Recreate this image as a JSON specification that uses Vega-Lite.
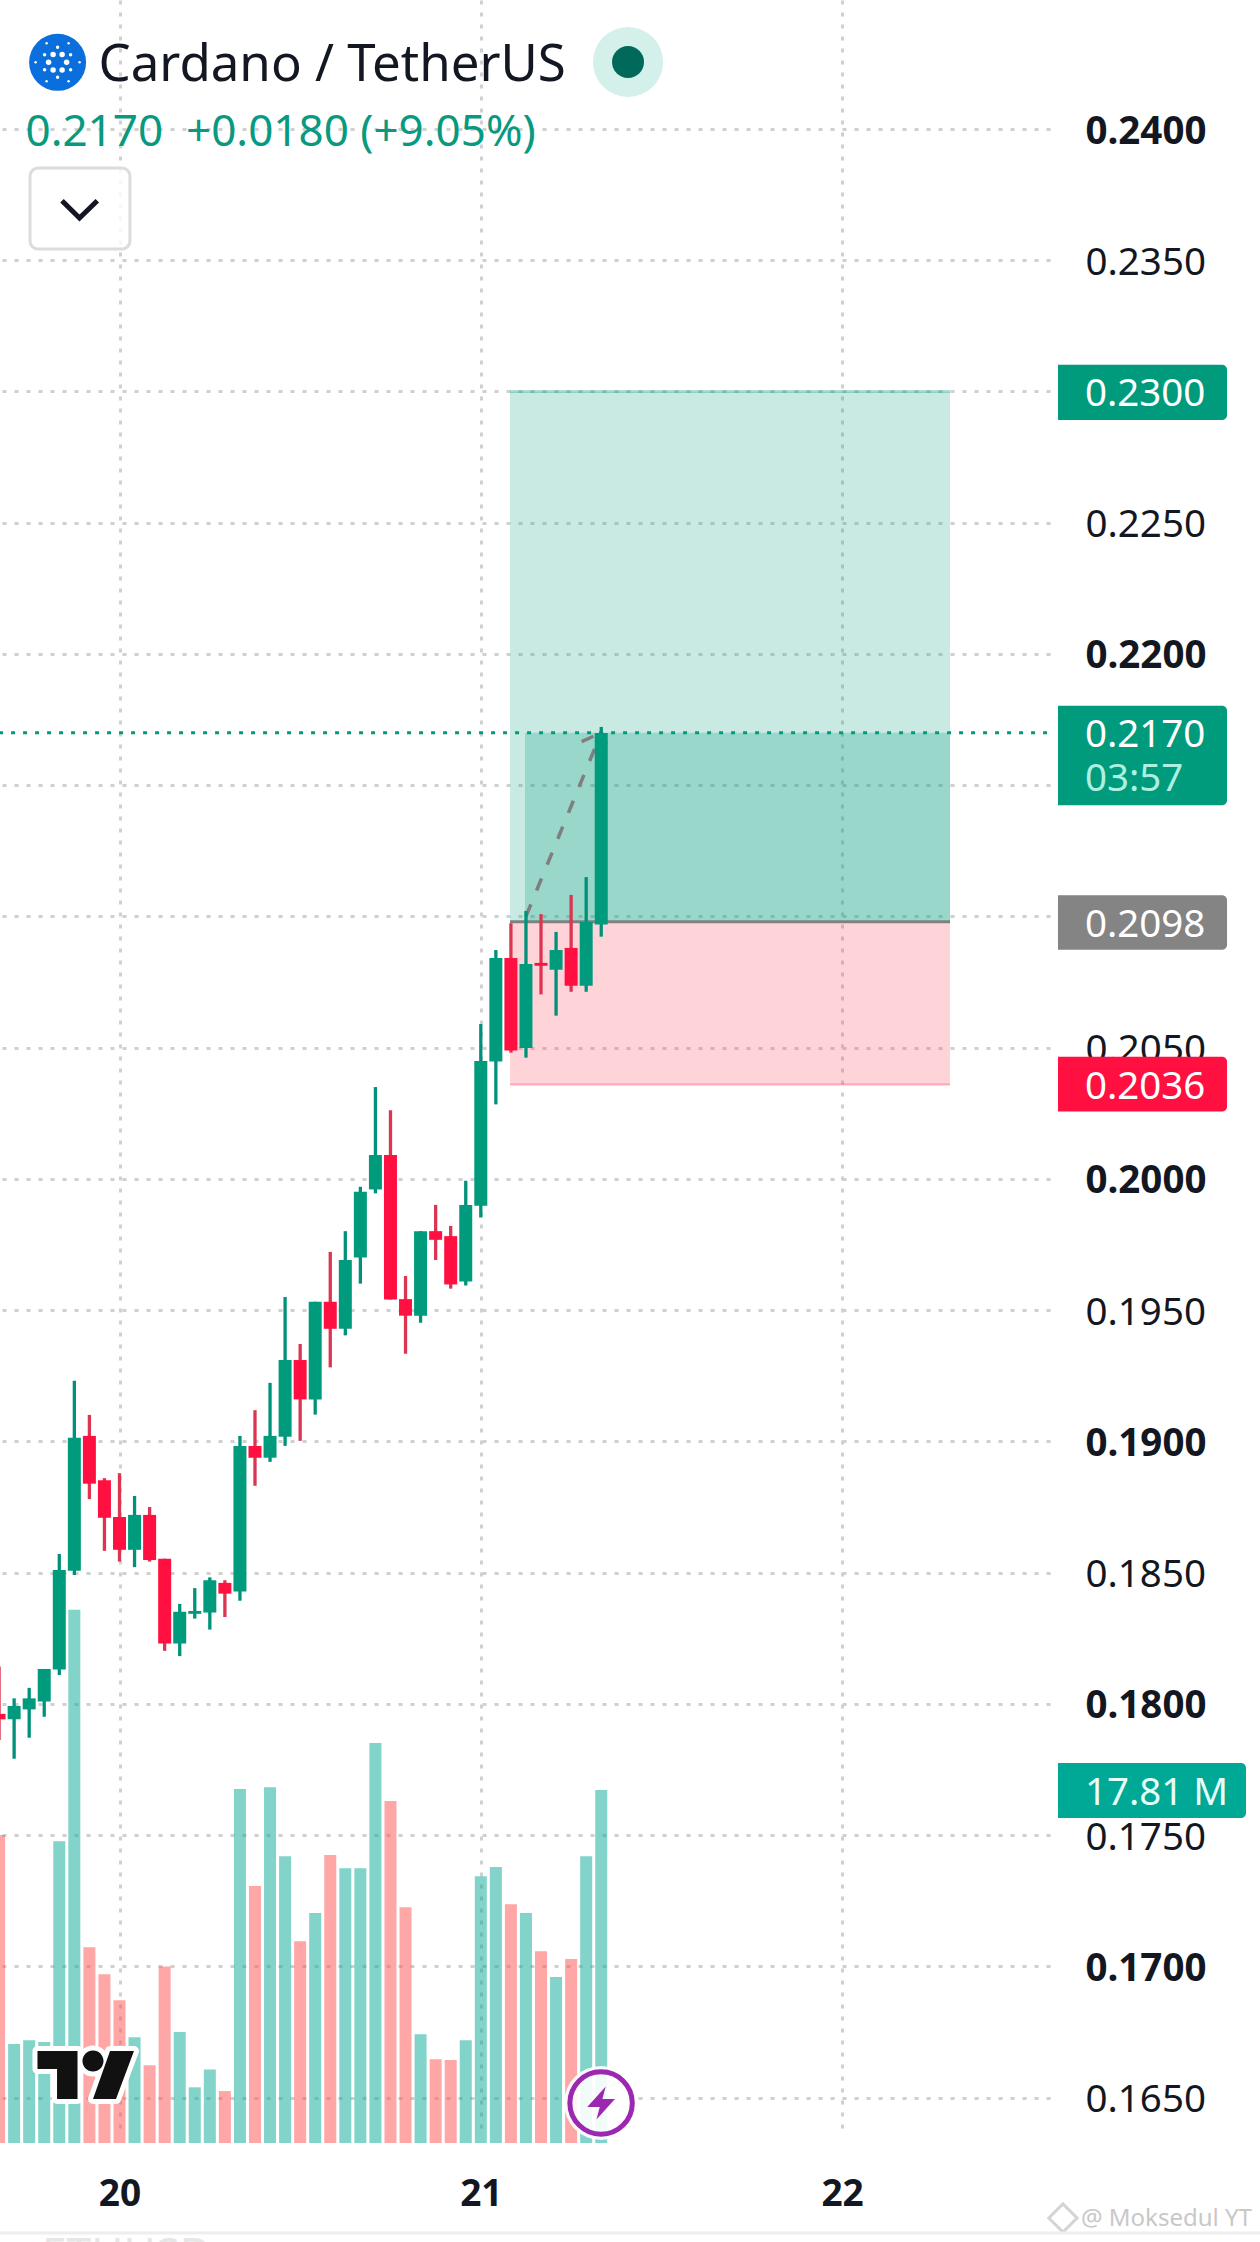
{
  "$schema": "https://vega.github.io/schema/vega-lite/v6.json",
  "width": 1050,
  "height": 2134,
  "autosize": "none",
  "padding": {"left": 0, "top": 0, "right": 210, "bottom": 108},
  "background": "#ffffff",
  "config": {
    "view": {"stroke": null},
    "text": {"font": "Noto Sans"},
    "axis": {"labelFont": "Noto Sans"}
  },
  "datasets": {
    "candles": [
      {"h": -8, "open": 0.17962, "close": 0.17941, "high": 0.18142, "low": 0.17862, "vol": 15.54, "dir": "down"},
      {"h": -7, "open": 0.17941, "close": 0.17992, "high": 0.18021, "low": 0.17791, "vol": 4.99, "dir": "up"},
      {"h": -6, "open": 0.17979, "close": 0.18021, "high": 0.18061, "low": 0.17871, "vol": 5.18, "dir": "up"},
      {"h": -5, "open": 0.18009, "close": 0.18133, "high": 0.18133, "low": 0.17951, "vol": 5.09, "dir": "up"},
      {"h": -4, "open": 0.18131, "close": 0.18510, "high": 0.18571, "low": 0.18110, "vol": 15.22, "dir": "up"},
      {"h": -3, "open": 0.18507, "close": 0.19014, "high": 0.19231, "low": 0.18491, "vol": 26.9, "dir": "up"},
      {"h": -2, "open": 0.19021, "close": 0.18839, "high": 0.19101, "low": 0.18780, "vol": 9.87, "dir": "down"},
      {"h": -1, "open": 0.18852, "close": 0.18709, "high": 0.18860, "low": 0.18583, "vol": 8.51, "dir": "down"},
      {"h": 0, "open": 0.18712, "close": 0.18587, "high": 0.18879, "low": 0.18542, "vol": 7.2, "dir": "down"},
      {"h": 1, "open": 0.18587, "close": 0.18720, "high": 0.18792, "low": 0.18521, "vol": 5.34, "dir": "up"},
      {"h": 2, "open": 0.18720, "close": 0.18548, "high": 0.18750, "low": 0.18542, "vol": 3.92, "dir": "down"},
      {"h": 3, "open": 0.18553, "close": 0.18230, "high": 0.18553, "low": 0.18202, "vol": 8.91, "dir": "down"},
      {"h": 4, "open": 0.18230, "close": 0.18351, "high": 0.18381, "low": 0.18182, "vol": 5.6, "dir": "up"},
      {"h": 5, "open": 0.18343, "close": 0.18354, "high": 0.18441, "low": 0.18325, "vol": 2.81, "dir": "up"},
      {"h": 6, "open": 0.18348, "close": 0.18471, "high": 0.18482, "low": 0.18283, "vol": 3.71, "dir": "up"},
      {"h": 7, "open": 0.18461, "close": 0.18420, "high": 0.18471, "low": 0.18331, "vol": 2.62, "dir": "down"},
      {"h": 8, "open": 0.18428, "close": 0.18982, "high": 0.19021, "low": 0.18393, "vol": 17.86, "dir": "up"},
      {"h": 9, "open": 0.18982, "close": 0.18938, "high": 0.19119, "low": 0.18831, "vol": 12.96, "dir": "down"},
      {"h": 10, "open": 0.18938, "close": 0.19021, "high": 0.19223, "low": 0.18922, "vol": 17.95, "dir": "up"},
      {"h": 11, "open": 0.19018, "close": 0.19310, "high": 0.19550, "low": 0.18983, "vol": 14.47, "dir": "up"},
      {"h": 12, "open": 0.19310, "close": 0.19160, "high": 0.19371, "low": 0.19002, "vol": 10.18, "dir": "down"},
      {"h": 13, "open": 0.19160, "close": 0.19532, "high": 0.19532, "low": 0.19102, "vol": 11.6, "dir": "up"},
      {"h": 14, "open": 0.19532, "close": 0.19429, "high": 0.19722, "low": 0.19282, "vol": 14.53, "dir": "down"},
      {"h": 15, "open": 0.19429, "close": 0.19691, "high": 0.19801, "low": 0.19404, "vol": 13.86, "dir": "up"},
      {"h": 16, "open": 0.19701, "close": 0.19951, "high": 0.19970, "low": 0.19601, "vol": 13.86, "dir": "up"},
      {"h": 17, "open": 0.19960, "close": 0.20091, "high": 0.20350, "low": 0.19945, "vol": 20.18, "dir": "up"},
      {"h": 18, "open": 0.20091, "close": 0.19541, "high": 0.20262, "low": 0.19541, "vol": 17.25, "dir": "down"},
      {"h": 19, "open": 0.19542, "close": 0.19479, "high": 0.19630, "low": 0.19334, "vol": 11.89, "dir": "down"},
      {"h": 20, "open": 0.19479, "close": 0.19801, "high": 0.19801, "low": 0.19452, "vol": 5.49, "dir": "up"},
      {"h": 21, "open": 0.19801, "close": 0.19768, "high": 0.19901, "low": 0.19691, "vol": 4.22, "dir": "down"},
      {"h": 22, "open": 0.19782, "close": 0.19598, "high": 0.19821, "low": 0.19582, "vol": 4.19, "dir": "down"},
      {"h": 23, "open": 0.19609, "close": 0.19901, "high": 0.19993, "low": 0.19594, "vol": 5.18, "dir": "up"},
      {"h": 24, "open": 0.19898, "close": 0.20449, "high": 0.20590, "low": 0.19853, "vol": 13.46, "dir": "up"},
      {"h": 25, "open": 0.20447, "close": 0.20842, "high": 0.20872, "low": 0.20284, "vol": 13.92, "dir": "up"},
      {"h": 26, "open": 0.20842, "close": 0.20489, "high": 0.20974, "low": 0.20481, "vol": 12.05, "dir": "down"},
      {"h": 27, "open": 0.20499, "close": 0.20819, "high": 0.21021, "low": 0.20462, "vol": 11.6, "dir": "up"},
      {"h": 28, "open": 0.20823, "close": 0.20812, "high": 0.21009, "low": 0.20703, "vol": 9.68, "dir": "down"},
      {"h": 29, "open": 0.20797, "close": 0.20872, "high": 0.20941, "low": 0.20622, "vol": 8.37, "dir": "up"},
      {"h": 30, "open": 0.20880, "close": 0.20736, "high": 0.21082, "low": 0.20713, "vol": 9.28, "dir": "down"},
      {"h": 31, "open": 0.20736, "close": 0.20979, "high": 0.21150, "low": 0.20713, "vol": 14.47, "dir": "up"},
      {"h": 32, "open": 0.20969, "close": 0.21699, "high": 0.21722, "low": 0.20923, "vol": 17.81, "dir": "up"}
    ]
  },
  "encoding": {
    "x": {
      "field": "h",
      "type": "quantitative",
      "scale": {"domain": [-7.938, 61.81], "nice": false, "zero": false, "padding": 0},
      "axis": {
        "title": null,
        "values": [0, 24, 48],
        "labelExpr": "datum.value / 24 + 20",
        "labelFontSize": 37,
        "labelFontWeight": "bold",
        "labelColor": "#131722",
        "labelPadding": 42,
        "labelFlush": false,
        "domain": false,
        "ticks": false,
        "grid": true,
        "gridColor": "#d0d0d0",
        "gridWidth": 3,
        "gridDash": [4, 8]
      }
    }
  },
  "layer": [
    {
      "layer": [
        {
          "data": {"name": "candles"},
          "mark": {"type": "bar", "size": 12, "opacity": 0.5, "orient": "vertical"},
          "encoding": {
            "y": {"field": "vol", "type": "quantitative", "scale": {"domain": [0.454, 108.12], "nice": false, "zero": false}, "axis": null},
            "y2": {"datum": 0},
            "color": {"field": "dir", "type": "nominal", "legend": null, "scale": {"domain": ["up", "down"], "range": ["#05a896", "#ff4d50"]}}
          }
        },
        {
          "data": {"values": [{"h": 62.34, "h2": 74.83, "top": 19.17, "bottom": 16.4}]},
          "mark": {"type": "rect", "color": "#00a896", "cornerRadiusTopRight": 5, "cornerRadiusBottomRight": 5},
          "encoding": {
            "x2": {"field": "h2"},
            "y": {"field": "top", "type": "quantitative", "axis": null},
            "y2": {"field": "bottom"}
          }
        },
        {
          "data": {"values": [{"h": 64.13, "v": 17.81, "label": "17.81 M"}]},
          "mark": {"type": "text", "align": "left", "baseline": "middle", "dy": 3, "fontSize": 38.5, "color": "#e6fff9"},
          "encoding": {
            "y": {"field": "v", "type": "quantitative", "axis": null},
            "text": {"field": "label"}
          }
        }
      ]
    },
    {
      "layer": [
        {
          "data": {"values": [{"h": 25.94, "h2": 55.17, "top": 0.23, "bottom": 0.2098}]},
          "mark": {"type": "rect", "fill": "#009b7c", "fillOpacity": 0.21},
          "encoding": {
            "x2": {"field": "h2"},
            "y": {
              "field": "top",
              "type": "quantitative",
              "scale": {"domain": [0.163613, 0.244915], "nice": false, "zero": false},
              "axis": {
                "title": null,
                "orient": "right",
                "values": [0.165, 0.17, 0.175, 0.18, 0.185, 0.19, 0.195, 0.2, 0.205, 0.21, 0.215, 0.22, 0.225, 0.23, 0.235, 0.24],
                "format": ".4f",
                "labelFontSize": 38.5,
                "labelFontWeight": {"condition": {"test": "indexof(['0.2400','0.2200','0.2000','0.1900','0.1800','0.1700'], datum.label) >= 0", "value": "bold"}, "value": "normal"},
                "labelColor": "#131722",
                "labelPadding": 35,
                "labelAlign": "left",
                "labelOffset": 2,
                "domain": false,
                "ticks": false,
                "grid": true,
                "gridColor": "#d0d0d0",
                "gridWidth": 3,
                "gridDash": [4, 8]
              }
            },
            "y2": {"field": "bottom"}
          }
        },
        {
          "data": {"values": [{"h": 26.94, "h2": 55.17, "top": 0.217, "bottom": 0.2098}]},
          "mark": {"type": "rect", "fill": "#009b7c", "fillOpacity": 0.245},
          "encoding": {
            "x2": {"field": "h2"},
            "y": {"field": "top", "type": "quantitative"},
            "y2": {"field": "bottom"}
          }
        },
        {
          "data": {"values": [{"h": 25.94, "h2": 55.17, "top": 0.2098, "bottom": 0.2036}]},
          "mark": {"type": "rect", "fill": "#ff4d5a", "fillOpacity": 0.24},
          "encoding": {
            "x2": {"field": "h2"},
            "y": {"field": "top", "type": "quantitative"},
            "y2": {"field": "bottom"}
          }
        },
        {
          "data": {"values": [{"h": 25.94, "h2": 55.17, "p": 0.23}]},
          "mark": {"type": "rule", "color": "#009b7c", "opacity": 0.3, "strokeWidth": 3},
          "encoding": {"x2": {"field": "h2"}, "y": {"field": "p", "type": "quantitative"}}
        },
        {
          "data": {"values": [{"h": 25.94, "h2": 55.17, "p": 0.2036}]},
          "mark": {"type": "rule", "color": "#ff1040", "opacity": 0.3, "strokeWidth": 2},
          "encoding": {"x2": {"field": "h2"}, "y": {"field": "p", "type": "quantitative"}}
        },
        {
          "data": {"values": [{"h": 25.94, "h2": 55.17, "p": 0.2098}]},
          "mark": {"type": "rule", "color": "#808080", "strokeWidth": 3},
          "encoding": {"x2": {"field": "h2"}, "y": {"field": "p", "type": "quantitative"}}
        },
        {
          "data": {"values": [{"h": -8, "h2": 61.81, "p": 0.217}]},
          "mark": {"type": "rule", "color": "#009b7c", "strokeWidth": 3, "strokeDash": [4, 8]},
          "encoding": {"x2": {"field": "h2"}, "y": {"field": "p", "type": "quantitative"}}
        },
        {
          "data": {"values": [
            {"h": 27, "p": 0.21, "part": "path"},
            {"h": 32, "p": 0.217, "part": "path"},
            {"h": 30.7, "p": 0.21666, "part": "left"},
            {"h": 32, "p": 0.217, "part": "left"},
            {"h": 32.58, "p": 0.21624, "part": "right"},
            {"h": 32, "p": 0.217, "part": "right"}
          ]},
          "mark": {"type": "line", "color": "#7f7f7f", "strokeWidth": 3.5, "strokeDash": [13, 15]},
          "encoding": {
            "y": {"field": "p", "type": "quantitative"},
            "detail": {"field": "part"}
          }
        },
        {
          "data": {"name": "candles"},
          "mark": {"type": "rule", "strokeWidth": 3.3},
          "encoding": {
            "y": {"field": "low", "type": "quantitative"},
            "y2": {"field": "high"},
            "stroke": {"field": "dir", "type": "nominal", "legend": null, "scale": {"domain": ["up", "down"], "range": ["#00917a", "#dc3552"]}}
          }
        },
        {
          "data": {"name": "candles"},
          "mark": {"type": "bar", "size": 13, "orient": "vertical"},
          "encoding": {
            "y": {"field": "open", "type": "quantitative"},
            "y2": {"field": "close"},
            "fill": {"field": "dir", "type": "nominal", "legend": null, "scale": {"domain": ["up", "down"], "range": ["#009b7c", "#ff1040"]}}
          }
        },
        {
          "data": {"values": [
            {"h": 62.34, "h2": 73.57, "top": 0.23102, "bottom": 0.22891, "kind": "target"},
            {"h": 62.34, "h2": 73.57, "top": 0.218025, "bottom": 0.214234, "kind": "last"},
            {"h": 62.34, "h2": 73.57, "top": 0.21081, "bottom": 0.20873, "kind": "entry"},
            {"h": 62.34, "h2": 73.57, "top": 0.20465, "bottom": 0.20257, "kind": "stop"}
          ]},
          "mark": {"type": "rect", "cornerRadiusTopRight": 5, "cornerRadiusBottomRight": 5},
          "encoding": {
            "x2": {"field": "h2"},
            "y": {"field": "top", "type": "quantitative"},
            "y2": {"field": "bottom"},
            "color": {"field": "kind", "type": "nominal", "legend": null, "scale": {"domain": ["target", "last", "entry", "stop"], "range": ["#009b7c", "#009b7c", "#848484", "#ff1040"]}}
          }
        },
        {
          "data": {"values": [
            {"h": 64.13, "p": 0.23, "label": "0.2300"},
            {"h": 64.13, "p": 0.21702, "label": "0.2170"},
            {"h": 64.13, "p": 0.2098, "label": "0.2098"},
            {"h": 64.13, "p": 0.2036, "label": "0.2036"}
          ]},
          "mark": {"type": "text", "align": "left", "baseline": "middle", "dy": 3, "fontSize": 38.5, "color": "#ffffff"},
          "encoding": {
            "y": {"field": "p", "type": "quantitative"},
            "text": {"field": "label"}
          }
        },
        {
          "data": {"values": [{"h": 64.13, "p": 0.21534, "label": "03:57"}]},
          "mark": {"type": "text", "align": "left", "baseline": "middle", "dy": 3, "fontSize": 38.5, "color": "#aef0e0"},
          "encoding": {
            "y": {"field": "p", "type": "quantitative"},
            "text": {"field": "label"}
          }
        },
        {
          "data": {"values": [{"h": 33.78, "p": 0.242553}]},
          "mark": {"type": "circle", "size": 4900, "color": "#d3f0ea", "opacity": 1},
          "encoding": {"y": {"field": "p", "type": "quantitative"}}
        },
        {
          "data": {"values": [{"h": 33.78, "p": 0.242553}]},
          "mark": {"type": "circle", "size": 1024, "color": "#00695a", "opacity": 1},
          "encoding": {"y": {"field": "p", "type": "quantitative"}}
        },
        {
          "data": {"values": [{"h": -4.112, "p": 0.242541}]},
          "mark": {"type": "circle", "size": 3249, "color": "#0a6fdc", "opacity": 1},
          "encoding": {"y": {"field": "p", "type": "quantitative"}}
        },
        {
          "data": {"values": [
            {"h": -3.514, "p": 0.242541}, {"h": -4.71, "p": 0.242541},
            {"h": -3.813, "p": 0.242838}, {"h": -4.411, "p": 0.242838},
            {"h": -3.813, "p": 0.242244}, {"h": -4.411, "p": 0.242244}
          ]},
          "mark": {"type": "circle", "size": 30, "color": "#ffffff", "opacity": 1},
          "encoding": {"y": {"field": "p", "type": "quantitative"}}
        },
        {
          "data": {"values": [
            {"h": -4.112, "p": 0.243113}, {"h": -4.112, "p": 0.241969},
            {"h": -3.248, "p": 0.242827}, {"h": -4.976, "p": 0.242827},
            {"h": -3.248, "p": 0.242255}, {"h": -4.976, "p": 0.242255}
          ]},
          "mark": {"type": "circle", "size": 12, "color": "#ffffff", "opacity": 1},
          "encoding": {"y": {"field": "p", "type": "quantitative"}}
        },
        {
          "data": {"values": [
            {"h": -2.652, "p": 0.242541}, {"h": -5.572, "p": 0.242541},
            {"h": -3.382, "p": 0.243265}, {"h": -4.842, "p": 0.243265},
            {"h": -3.382, "p": 0.241817}, {"h": -4.842, "p": 0.241817}
          ]},
          "mark": {"type": "circle", "size": 6, "color": "#ffffff", "opacity": 1},
          "encoding": {"y": {"field": "p", "type": "quantitative"}}
        },
        {
          "data": {"values": [{"h": -1.395, "p": 0.242553, "label": "Cardano / TetherUS"}]},
          "mark": {"type": "text", "align": "left", "baseline": "middle", "dy": 4, "fontSize": 51, "color": "#131722"},
          "encoding": {
            "y": {"field": "p", "type": "quantitative"},
            "text": {"field": "label"}
          }
        },
        {
          "data": {"values": [{"h": -6.245, "p": 0.239962, "label": "0.2170\u00a0\u00a0+0.0180 (+9.05%)"}]},
          "mark": {"type": "text", "align": "left", "baseline": "middle", "dy": 3, "fontSize": 44, "color": "#089981"},
          "encoding": {
            "y": {"field": "p", "type": "quantitative"},
            "text": {"field": "label"}
          }
        },
        {
          "data": {"values": [{"h": -5.945, "h2": 0.694, "top": 0.238514, "bottom": 0.235428}]},
          "mark": {"type": "rect", "fill": "#ffffff", "fillOpacity": 0.8, "stroke": "#dcdcdc", "strokeWidth": 3, "cornerRadius": 8},
          "encoding": {
            "x2": {"field": "h2"},
            "y": {"field": "top", "type": "quantitative"},
            "y2": {"field": "bottom"}
          }
        },
        {
          "data": {"values": [{"h": -3.82, "p": 0.237268}, {"h": -2.657, "p": 0.236609}, {"h": -1.475, "p": 0.237268}]},
          "mark": {"type": "line", "color": "#131722", "strokeWidth": 5},
          "encoding": {"y": {"field": "p", "type": "quantitative"}}
        },
        {
          "data": {"values": [{"h": -2.225, "p": 0.16586}]},
          "mark": {"type": "point", "filled": true, "size": 37248, "fill": "#ffffff", "stroke": "#ffffff", "strokeWidth": 10, "opacity": 1, "strokeJoin": "round", "shape": "M-.503 -.249L-.088 -.249L-.088 .249L-.3 .249L-.3 -.062L-.503 -.062ZM-.0365 -.145a.109 .109 0 1 0 .218 0a.109 .109 0 1 0 -.218 0ZM.249 -.249L.497 -.249L.311 .249L.0725 .249Z"},
          "encoding": {"y": {"field": "p", "type": "quantitative"}}
        },
        {
          "data": {"values": [{"h": -2.225, "p": 0.16586}]},
          "mark": {"type": "point", "filled": true, "size": 37248, "color": "#111111", "opacity": 1, "shape": "M-.503 -.249L-.088 -.249L-.088 .249L-.3 .249L-.3 -.062L-.503 -.062ZM-.0365 -.145a.109 .109 0 1 0 .218 0a.109 .109 0 1 0 -.218 0ZM.249 -.249L.497 -.249L.311 .249L.0725 .249Z"},
          "encoding": {"y": {"field": "p", "type": "quantitative"}}
        },
        {
          "data": {"values": [{"h": 31.99, "p": 0.164794}]},
          "mark": {"type": "circle", "size": 5500, "color": "#ffffff", "opacity": 0.9},
          "encoding": {"y": {"field": "p", "type": "quantitative"}}
        },
        {
          "data": {"values": [{"h": 31.99, "p": 0.164794}]},
          "mark": {"type": "point", "shape": "circle", "size": 3900, "filled": false, "stroke": "#9c27b0", "strokeWidth": 5, "opacity": 1},
          "encoding": {"y": {"field": "p", "type": "quantitative"}}
        },
        {
          "data": {"values": [{"h": 31.99, "p": 0.164794}]},
          "mark": {"type": "point", "filled": true, "size": 4356, "color": "#9c27b0", "opacity": 1, "shape": "M.14 -.5L-.42 .12L-.04 .12L-.14 .5L.42 -.12L.04 -.12Z"},
          "encoding": {"y": {"field": "p", "type": "quantitative"}}
        },
        {
          "data": {"values": [{"h": 63.87, "p": 0.160413, "label": "@ Moksedul YT"}]},
          "mark": {"type": "text", "align": "left", "baseline": "middle", "dy": 1, "fontSize": 24, "color": "#c8c8c8"},
          "encoding": {
            "y": {"field": "p", "type": "quantitative"},
            "text": {"field": "label"}
          }
        },
        {
          "data": {"values": [{"h": 62.67, "p": 0.160413}]},
          "mark": {"type": "point", "shape": "diamond", "size": 800, "filled": false, "stroke": "#d4d4d4", "strokeWidth": 3, "opacity": 1},
          "encoding": {"y": {"field": "p", "type": "quantitative"}}
        },
        {
          "data": {"values": [{"h": -8, "h2": 76, "p": 0.159842}]},
          "mark": {"type": "rule", "color": "#eeeeee", "strokeWidth": 3},
          "encoding": {"x2": {"field": "h2"}, "y": {"field": "p", "type": "quantitative"}}
        },
        {
          "data": {"values": [{"h": -5.15, "p": 0.159804, "label": "ETHUSD"}]},
          "mark": {"type": "text", "align": "left", "baseline": "top", "fontSize": 44, "color": "#e6e6e6"},
          "encoding": {
            "y": {"field": "p", "type": "quantitative"},
            "text": {"field": "label"}
          }
        }
      ]
    }
  ],
  "resolve": {"scale": {"y": "independent", "color": "independent"}}
}
